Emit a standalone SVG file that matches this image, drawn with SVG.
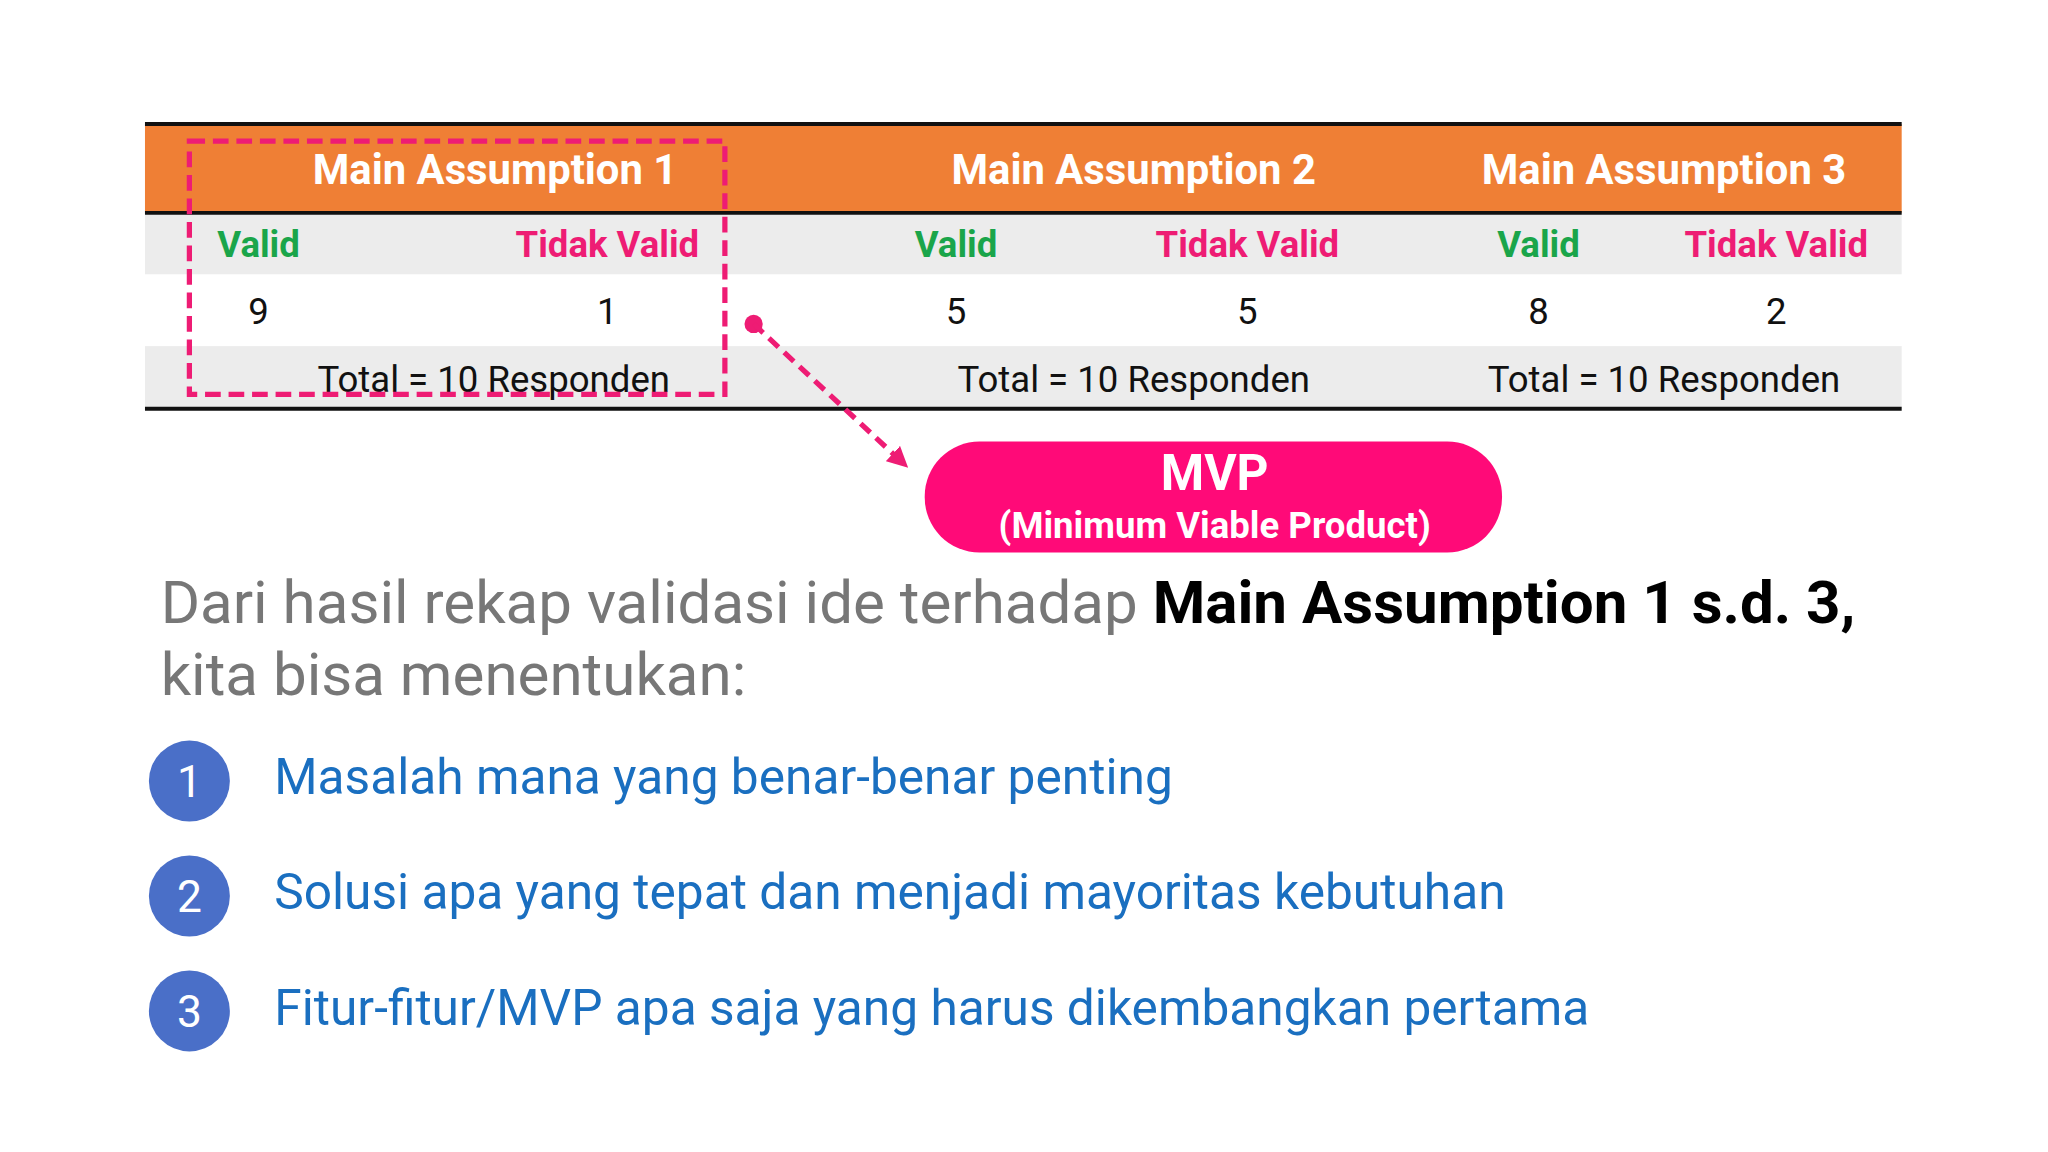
<svg xmlns="http://www.w3.org/2000/svg" width="2048" height="1152" viewBox="0 0 2048 1152">
<defs>
<style>
text{font-family:Roboto,"Liberation Sans",sans-serif}
.h{font-size:32px;font-weight:bold;fill:#fff;text-anchor:middle}
.v{font-size:28px;font-weight:bold;fill:#1aa54a;text-anchor:middle}
.t{font-size:28px;font-weight:bold;fill:#ee1c74;text-anchor:middle}
.n{font-size:28px;fill:#111;text-anchor:middle}
.li{font-size:38px;fill:#1a6fc0}
.cn{font-size:34px;fill:#fff;text-anchor:middle}
.c{fill:#4a6fc8}
</style>
<marker id="ah" viewBox="0 0 10 10" refX="8" refY="5" markerWidth="4" markerHeight="4" orient="auto"><path d="M0,0L10,5L0,10z" fill="#ee1c74"/></marker>
</defs>
<rect width="2048" height="1152" fill="#fff"/>
<g transform="scale(1.3061)">
<g id="table">
<rect x="111" y="95" width="1345" height="68" fill="#ef7f35"/>
<rect x="111" y="163" width="1345" height="47" fill="#ececec"/>
<rect x="111" y="265" width="1345" height="48" fill="#ececec"/>
<line x1="111" y1="95" x2="1456" y2="95" stroke="#111" stroke-width="3"/>
<line x1="111" y1="163" x2="1456" y2="163" stroke="#111" stroke-width="3"/>
<line x1="111" y1="313" x2="1456" y2="313" stroke="#111" stroke-width="3"/>
<text class="h" x="379" y="141">Main Assumption 1</text>
<text class="h" x="868" y="141">Main Assumption 2</text>
<text class="h" x="1274" y="141">Main Assumption 3</text>
<text class="v" x="198" y="197">Valid</text><text class="t" x="465" y="197">Tidak Valid</text>
<text class="v" x="732" y="197">Valid</text><text class="t" x="955" y="197">Tidak Valid</text>
<text class="v" x="1178" y="197">Valid</text><text class="t" x="1360" y="197">Tidak Valid</text>
<text class="n" x="198" y="248">9</text><text class="n" x="465" y="248">1</text>
<text class="n" x="732" y="248">5</text><text class="n" x="955" y="248">5</text>
<text class="n" x="1178" y="248">8</text><text class="n" x="1360" y="248">2</text>
<text class="n" x="378" y="300">Total = 10 Responden</text>
<text class="n" x="868" y="300">Total = 10 Responden</text>
<text class="n" x="1274" y="300">Total = 10 Responden</text>
</g>
<g id="highlight">
<rect x="145" y="108" width="410" height="194" fill="none" stroke="#ee1c74" stroke-width="4" stroke-dasharray="12 6"/>
</g>
<g id="connectors">
<circle cx="577" cy="248" r="7" fill="#ee1c74"/>
<line x1="577" y1="248" x2="693" y2="356" stroke="#ee1c74" stroke-width="4" stroke-dasharray="10 6" marker-end="url(#ah)"/>
</g>
<g id="mvp">
<rect x="708" y="338" width="442" height="85" rx="42" fill="#ff0a78"/>
<text x="930" y="375" font-size="38" font-weight="bold" fill="#fff" text-anchor="middle">MVP</text>
<text x="930" y="412" font-size="28" font-weight="bold" fill="#fff" text-anchor="middle">(Minimum Viable Product)</text>
</g>
<g id="para">
<text x="123" y="477" font-size="46" fill="#777">Dari hasil rekap validasi ide terhadap <tspan font-weight="bold" fill="#000">Main Assumption 1 s.d. 3,</tspan></text>
<text x="123" y="532" font-size="46" fill="#777">kita bisa menentukan:</text>
</g>
<g id="item1"><circle class="c" cx="145" cy="598" r="31"/><text class="cn" x="145" y="610">1</text><text class="li" x="210" y="608">Masalah mana yang benar-benar penting</text></g>
<g id="item2"><circle class="c" cx="145" cy="686" r="31"/><text class="cn" x="145" y="698">2</text><text class="li" x="210" y="696">Solusi apa yang tepat dan menjadi mayoritas kebutuhan</text></g>
<g id="item3"><circle class="c" cx="145" cy="774" r="31"/><text class="cn" x="145" y="786">3</text><text class="li" x="210" y="785">Fitur-fitur/MVP apa saja yang harus dikembangkan pertama</text></g>
</g>
</svg>
